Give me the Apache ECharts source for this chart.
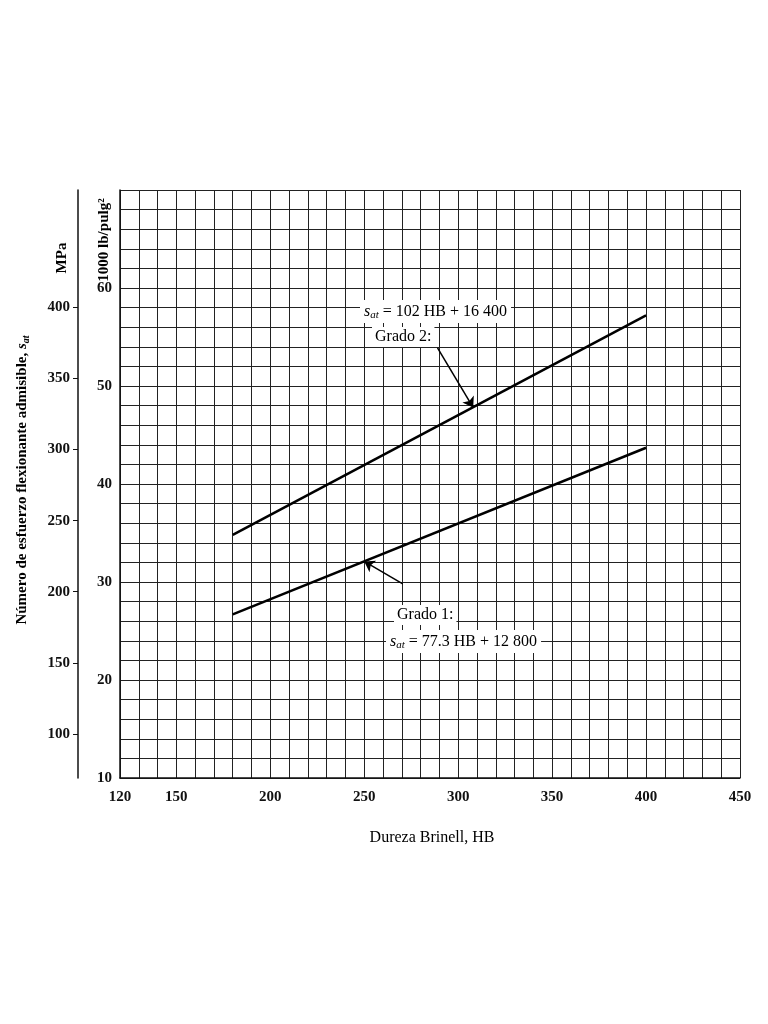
<!DOCTYPE html>
<html><head><meta charset="utf-8">
<script src="https://cdn.jsdelivr.net/npm/echarts@6/dist/echarts.min.js"></script>
<style>html,body{margin:0;background:#fff}#c{width:768px;height:1024px}</style>
</head><body><div id="c"></div>
<script>
const hb = [180, 400];
const grado2 = [34.8, 57.2];   // ksi
const grado1 = [26.7, 43.7];   // ksi
const xLabels = [120, 150, 200, 250, 300, 350, 400, 450];
const ksiLabels = [10, 20, 30, 40, 50, 60];
const mpaLabels = [100, 150, 200, 250, 300, 350, 400];
const F = "'Liberation Serif','DejaVu Serif',serif";
const chart = echarts.init(document.getElementById('c'));
const K = 6.894757;
chart.setOption({
  animation: false,
  backgroundColor: '#fff',
  grid: {left: 120, right: 28, top: 190, bottom: 246},
  xAxis: {type: 'value', min: 120, max: 450, interval: 10,
    axisLine: {lineStyle: {color: '#111', width: 1.5}}, axisTick: {show: false},
    splitLine: {lineStyle: {color: '#222', width: 1}},
    axisLabel: {color: '#111', fontFamily: F, fontSize: 15, fontWeight: 'bold', margin: 12,
      formatter: v => xLabels.includes(v) ? v : ''}},
  yAxis: [
    {type: 'value', min: 10, max: 70, interval: 2,
      axisLine: {show: true, lineStyle: {color: '#111', width: 1.5}}, axisTick: {show: false},
      splitLine: {lineStyle: {color: '#222', width: 1}},
      axisLabel: {color: '#111', fontFamily: F, fontSize: 15, fontWeight: 'bold', margin: 8,
        formatter: v => ksiLabels.includes(v) ? v : ''}},
    {type: 'value', position: 'left', offset: 42, min: 10 * K, max: 70 * K,
      axisLine: {show: true, lineStyle: {color: '#111', width: 1.5}},
      axisTick: {show: true, customValues: mpaLabels, length: 5, lineStyle: {color: '#111'}},
      splitLine: {show: false},
      axisLabel: {customValues: mpaLabels, color: '#111', fontFamily: F, fontSize: 15, fontWeight: 'bold', margin: 8}}
  ],
  series: [
    {type: 'line', data: hb.map((x, i) => [x, grado2[i]]), symbol: 'none',
      lineStyle: {color: '#000', width: 2.5}},
    {type: 'line', data: hb.map((x, i) => [x, grado1[i]]), symbol: 'none',
      lineStyle: {color: '#000', width: 2.5}},
    {type: 'lines', coordinateSystem: 'cartesian2d', symbol: ['none', 'arrow'], symbolSize: 10, z: 5,
      lineStyle: {color: '#000', width: 1.5, opacity: 1},
      data: [{coords: [[289, 53.9], [308, 47.8]]}, {coords: [[270.5, 29.8], [250, 32.1]]}]}
  ]
});
const rich = {i: {fontStyle: 'italic', fontFamily: F, fontSize: 16, fill: '#000'},
  s: {fontStyle: 'italic', fontFamily: F, fontSize: 11, fill: '#000', padding: [8, 0, 0, 0]},
  n: {fontFamily: F, fontSize: 16, fill: '#000'}};
chart.setOption({graphic: [
  {type: 'text', left: 360, top: 300, z: 10, style: {rich, text: '{i|s}{s|at}{n| = 102 HB + 16 400}',
    backgroundColor: '#fff', padding: [2, 4]}},
  {type: 'text', left: 372, top: 327, z: 10, style: {text: 'Grado 2:', font: '16px ' + F, fill: '#000', backgroundColor: '#fff', padding: [2, 3]}},
  {type: 'text', left: 394, top: 605, z: 10, style: {text: 'Grado 1:', font: '16px ' + F, fill: '#000', backgroundColor: '#fff', padding: [2, 3]}},
  {type: 'text', left: 386, top: 630, z: 10, style: {rich, text: '{i|s}{s|at}{n| = 77.3 HB + 12 800}',
    backgroundColor: '#fff', padding: [2, 4]}},
  {type: 'text', x: 432, y: 838, style: {text: 'Dureza Brinell, HB', font: '16px ' + F, fill: '#000', align: 'center', verticalAlign: 'middle'}},
  {type: 'text', x: 22, y: 480, rotation: Math.PI / 2, style: {rich: {
      n: {fontFamily: F, fontSize: 15, fontWeight: 'bold', fill: '#000'},
      i: {fontFamily: F, fontSize: 15, fontWeight: 'bold', fontStyle: 'italic', fill: '#000'},
      s: {fontFamily: F, fontSize: 10, fontWeight: 'bold', fontStyle: 'italic', fill: '#000', padding: [8, 0, 0, 0]}},
    text: '{n|Número de esfuerzo flexionante admisible, }{i|s}{s|at}', align: 'center', verticalAlign: 'middle'}},
  {type: 'text', x: 62, y: 258, rotation: Math.PI / 2, style: {text: 'MPa', font: 'bold 15px ' + F, fill: '#000', align: 'center', verticalAlign: 'middle'}},
  {type: 'text', x: 104, y: 240, rotation: Math.PI / 2, style: {text: '1000 lb/pulg²', font: 'bold 15px ' + F, fill: '#000', align: 'center', verticalAlign: 'middle'}}
]});
</script></body></html>
